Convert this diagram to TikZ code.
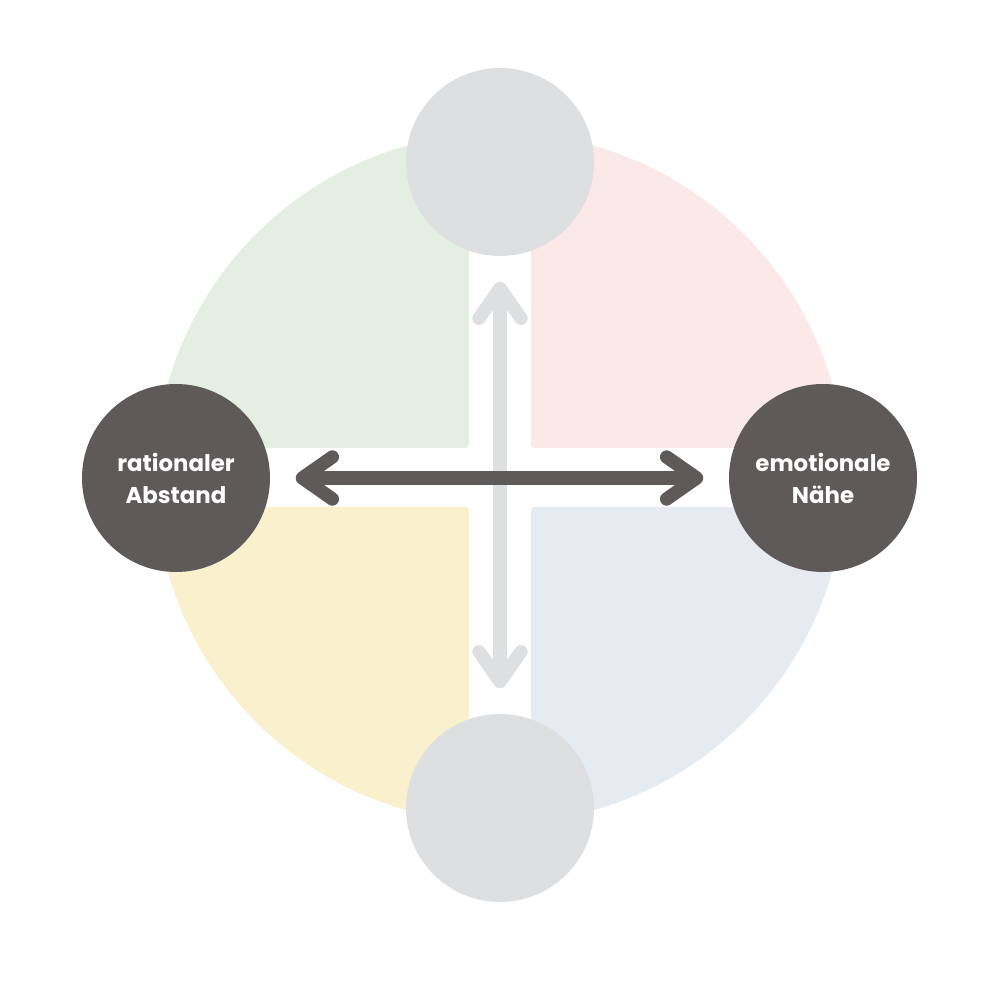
\documentclass[tikz,border=0pt]{standalone}
\usepackage{fontspec}
\setmainfont{Poppins}
\usetikzlibrary{arrows.meta}

\definecolor{verde}{HTML}{E5EEE3}
\definecolor{rosa}{HTML}{FBE8E9}
\definecolor{amarillo}{HTML}{F9F0CD}
\definecolor{azul}{HTML}{E6EBF2}
\definecolor{grisclaro}{HTML}{DEDFE1}
\definecolor{grisoscuro}{HTML}{5E5A59}

\tikzset{
  pol/.style={circle, fill=grisoscuro, minimum size=1.88cm, inner sep=0pt,
    text=white, align=center, font=\bfseries\fontsize{6.5}{9.1}\selectfont},
  polvacio/.style={circle, fill=grisclaro, minimum size=1.88cm, inner sep=0pt},
  flecha/.style={line width=3.8pt, {Straight Barb[length=3mm, width=4.2mm, round]}-{Straight Barb[length=3mm, width=4.2mm, round]}, shorten <=2.5mm, shorten >=2.5mm}
}

\begin{document}
\begin{tikzpicture}
            % fondo
            \fill[white] (-5,-5.22) rectangle (5,4.78);
            \useasboundingbox (-5,-5.22) rectangle (5,4.78);

            % cuadrantes del círculo grande
            \begin{scope}
                \clip (0,0) circle(3.45);
                \fill[verde, rounded corners=1pt] (-0.31,0.30) rectangle (-3.6,3.6);
                \fill[rosa, rounded corners=1pt] (0.31,0.30) rectangle (3.6,3.6);
                \fill[amarillo, rounded corners=1pt] (-0.31,-0.29) rectangle (-3.6,-3.6);
                \fill[azul, rounded corners=1pt] (0.31,-0.29) rectangle (3.6,-3.6);
            \end{scope}

            % círculos grises (arriba y abajo)
            \node[polvacio] (arriba) at (0,3.16) {};
            \node[polvacio] (abajo) at (0,-3.30) {};

            % círculos oscuros con texto
            \node[pol] (rational) at (-3.24,0) {rationaler\\Abstand};
            \node[pol] (emotional) at (3.23,0) {emotionale\\Nähe};

            \draw[flecha, grisclaro] (arriba) -- (abajo);
            \draw[flecha, grisoscuro] (rational) -- (emotional);
        \end{tikzpicture}
\end{document}
